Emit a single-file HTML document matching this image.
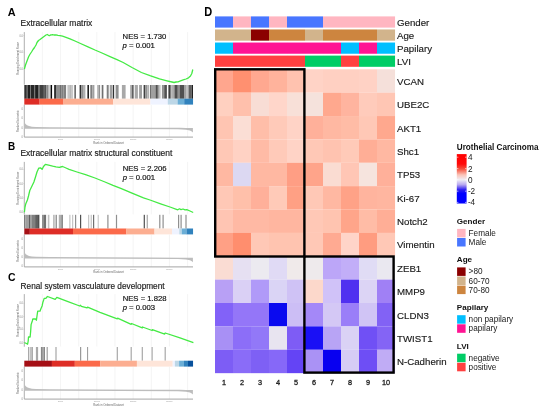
<!DOCTYPE html>
<html><head><meta charset="utf-8"><title>Figure</title>
<style>
html,body{margin:0;padding:0;background:#fff;}
body{width:550px;height:410px;overflow:hidden;}
svg{display:block;filter:blur(0.4px);font-family:"Liberation Sans", sans-serif;}
</style></head>
<body>
<svg width="550" height="410" viewBox="0 0 550 410">
<rect x="0" y="0" width="550" height="410" fill="#fff"/>
<text transform="translate(7.8,15.7) scale(0.94,1)" font-size="11.6" font-weight="bold" fill="#000">A</text>
<text x="20.6" y="25.8" font-size="8.45" fill="#1a1a1a" font-weight="normal" text-anchor="start" stroke="#1a1a1a" stroke-width="0.16">Extracellular matrix</text>
<line x1="42.4" y1="32.1" x2="42.4" y2="84.5" stroke="#ececec" stroke-width="0.6"/>
<line x1="42.4" y1="104.9" x2="42.4" y2="137.1" stroke="#ececec" stroke-width="0.6"/>
<line x1="60.55" y1="32.1" x2="60.55" y2="84.5" stroke="#ececec" stroke-width="0.6"/>
<line x1="60.55" y1="104.9" x2="60.55" y2="137.1" stroke="#ececec" stroke-width="0.6"/>
<line x1="78.7" y1="32.1" x2="78.7" y2="84.5" stroke="#ececec" stroke-width="0.6"/>
<line x1="78.7" y1="104.9" x2="78.7" y2="137.1" stroke="#ececec" stroke-width="0.6"/>
<line x1="96.85" y1="32.1" x2="96.85" y2="84.5" stroke="#ececec" stroke-width="0.6"/>
<line x1="96.85" y1="104.9" x2="96.85" y2="137.1" stroke="#ececec" stroke-width="0.6"/>
<line x1="115" y1="32.1" x2="115" y2="84.5" stroke="#ececec" stroke-width="0.6"/>
<line x1="115" y1="104.9" x2="115" y2="137.1" stroke="#ececec" stroke-width="0.6"/>
<line x1="133.15" y1="32.1" x2="133.15" y2="84.5" stroke="#ececec" stroke-width="0.6"/>
<line x1="133.15" y1="104.9" x2="133.15" y2="137.1" stroke="#ececec" stroke-width="0.6"/>
<line x1="151.3" y1="32.1" x2="151.3" y2="84.5" stroke="#ececec" stroke-width="0.6"/>
<line x1="151.3" y1="104.9" x2="151.3" y2="137.1" stroke="#ececec" stroke-width="0.6"/>
<line x1="169.45" y1="32.1" x2="169.45" y2="84.5" stroke="#ececec" stroke-width="0.6"/>
<line x1="169.45" y1="104.9" x2="169.45" y2="137.1" stroke="#ececec" stroke-width="0.6"/>
<line x1="187.6" y1="32.1" x2="187.6" y2="84.5" stroke="#ececec" stroke-width="0.6"/>
<line x1="187.6" y1="104.9" x2="187.6" y2="137.1" stroke="#ececec" stroke-width="0.6"/>
<line x1="24.3" y1="32.1" x2="24.3" y2="84.7" stroke="#9a9a9a" stroke-width="0.8"/>
<line x1="24.3" y1="104.7" x2="24.3" y2="137.1" stroke="#9a9a9a" stroke-width="0.8"/>
<line x1="24.3" y1="137.1" x2="193" y2="137.1" stroke="#9a9a9a" stroke-width="0.9"/>
<text x="23" y="36.5" font-size="2.6" fill="#888" font-weight="normal" text-anchor="end">0.0</text>
<line x1="23.3" y1="35.6" x2="24.3" y2="35.6" stroke="#aaa" stroke-width="0.4"/>
<text x="23" y="53" font-size="2.6" fill="#888" font-weight="normal" text-anchor="end">0.0</text>
<line x1="23.3" y1="52.1" x2="24.3" y2="52.1" stroke="#aaa" stroke-width="0.4"/>
<text x="23" y="70.2" font-size="2.6" fill="#888" font-weight="normal" text-anchor="end">0.0</text>
<line x1="23.3" y1="69.3" x2="24.3" y2="69.3" stroke="#aaa" stroke-width="0.4"/>
<text x="23" y="110.3" font-size="2.6" fill="#888" font-weight="normal" text-anchor="end">0</text>
<text x="23" y="119.4" font-size="2.6" fill="#888" font-weight="normal" text-anchor="end">0</text>
<text x="23" y="128.5" font-size="2.6" fill="#888" font-weight="normal" text-anchor="end">0</text>
<text x="23" y="137.5" font-size="2.6" fill="#888" font-weight="normal" text-anchor="end">0</text>
<text transform="translate(18.9,58.4) rotate(-90)" font-size="2.75" fill="#666" text-anchor="middle">Running Enrichment Score</text>
<text transform="translate(18.9,121.1) rotate(-90)" font-size="2.75" fill="#666" text-anchor="middle">Ranked list metric</text>
<text x="60.55" y="140.2" font-size="2.3" fill="#999" font-weight="normal" text-anchor="middle">5000</text>
<text x="96.85" y="140.2" font-size="2.3" fill="#999" font-weight="normal" text-anchor="middle">10000</text>
<text x="133.15" y="140.2" font-size="2.3" fill="#999" font-weight="normal" text-anchor="middle">15000</text>
<text x="169.45" y="140.2" font-size="2.3" fill="#999" font-weight="normal" text-anchor="middle">20000</text>
<text x="108.5" y="143.6" font-size="2.75" fill="#666" font-weight="normal" text-anchor="middle">Rank in Ordered Dataset</text>
<rect x="24.3" y="85" width="2.5" height="13.8" fill="#303030"/>
<rect x="26.8" y="85" width="0.8" height="13.8" fill="#505050"/>
<rect x="27.6" y="85" width="2.6" height="13.8" fill="#202020"/>
<rect x="30.2" y="85" width="0.8" height="13.8" fill="#606060"/>
<rect x="31" y="85" width="3.3" height="13.8" fill="#282828"/>
<rect x="34.3" y="85" width="0.8" height="13.8" fill="#585858"/>
<rect x="35.1" y="85" width="3.3" height="13.8" fill="#202020"/>
<rect x="38.4" y="85" width="1.2" height="13.8" fill="#505050"/>
<rect x="39.6" y="85" width="3.9" height="13.8" fill="#404040"/>
<rect x="43.5" y="85" width="1.1" height="13.8" fill="#101010"/>
<rect x="44.6" y="85" width="1.9" height="13.8" fill="#505050"/>
<rect x="46.5" y="85" width="2.2" height="13.8" fill="#8a8a8a"/>
<rect x="48.7" y="85" width="1.5" height="13.8" fill="#d0d0d0"/>
<rect x="50.2" y="85" width="0.6" height="13.8" fill="#808080"/>
<rect x="50.8" y="85" width="1.3" height="13.8" fill="#080808"/>
<rect x="52.1" y="85" width="0.3" height="13.8" fill="#909090"/>
<rect x="52.4" y="85" width="1.7" height="13.8" fill="#ffffff"/>
<rect x="54.1" y="85" width="1.9" height="13.8" fill="#303030"/>
<rect x="56" y="85" width="4" height="13.8" fill="#909090"/>
<rect x="60" y="85" width="1.2" height="13.8" fill="#707070"/>
<rect x="61.2" y="85" width="2.5" height="13.8" fill="#808080"/>
<rect x="63.7" y="85" width="2.4" height="13.8" fill="#808080"/>
<rect x="67.4" y="85" width="2.2" height="13.8" fill="#c4c4c4"/>
<rect x="69.6" y="85" width="1.2" height="13.8" fill="#a0a0a0"/>
<rect x="70.8" y="85" width="2.3" height="13.8" fill="#c8c8c8"/>
<rect x="74.3" y="85" width="1.7" height="13.8" fill="#707070"/>
<rect x="79.6" y="85" width="1.8" height="13.8" fill="#303030"/>
<rect x="81.4" y="85" width="2.3" height="13.8" fill="#909090"/>
<rect x="83.7" y="85" width="1.7" height="13.8" fill="#b0b0b0"/>
<rect x="87.4" y="85" width="1.6" height="13.8" fill="#202020"/>
<rect x="90.3" y="85" width="2" height="13.8" fill="#808080"/>
<rect x="92.3" y="85" width="2.1" height="13.8" fill="#a0a0a0"/>
<rect x="97.2" y="85" width="1.3" height="13.8" fill="#b0b0b0"/>
<rect x="98.5" y="85" width="1.6" height="13.8" fill="#909090"/>
<rect x="101.7" y="85" width="1.7" height="13.8" fill="#707070"/>
<rect x="106.7" y="85" width="1.7" height="13.8" fill="#808080"/>
<rect x="108.4" y="85" width="0.8" height="13.8" fill="#909090"/>
<rect x="110" y="85" width="2.5" height="13.8" fill="#a0a0a0"/>
<rect x="112.9" y="85" width="1.2" height="13.8" fill="#303030"/>
<rect x="114.1" y="85" width="1.7" height="13.8" fill="#e0e0e0"/>
<rect x="115.8" y="85" width="2.8" height="13.8" fill="#909090"/>
<rect x="121.9" y="85" width="3.7" height="13.8" fill="#a8a8a8"/>
<rect x="130.1" y="85" width="1.6" height="13.8" fill="#b0b0b0"/>
<rect x="131.7" y="85" width="2.1" height="13.8" fill="#606060"/>
<rect x="133.8" y="85" width="1.2" height="13.8" fill="#e8e8e8"/>
<rect x="135" y="85" width="2.9" height="13.8" fill="#a8a8a8"/>
<rect x="139.1" y="85" width="2.9" height="13.8" fill="#a0a0a0"/>
<rect x="143.6" y="85" width="1.6" height="13.8" fill="#404040"/>
<rect x="145.2" y="85" width="2.1" height="13.8" fill="#909090"/>
<rect x="147.3" y="85" width="1.7" height="13.8" fill="#b0b0b0"/>
<rect x="149" y="85" width="1.1" height="13.8" fill="#f0f0f0"/>
<rect x="150.1" y="85" width="1.5" height="13.8" fill="#606060"/>
<rect x="151.6" y="85" width="2.1" height="13.8" fill="#a0a0a0"/>
<rect x="153.7" y="85" width="0.8" height="13.8" fill="#606060"/>
<rect x="154.5" y="85" width="1.6" height="13.8" fill="#909090"/>
<rect x="156.1" y="85" width="1.7" height="13.8" fill="#404040"/>
<rect x="157.8" y="85" width="1.2" height="13.8" fill="#a0a0a0"/>
<rect x="159" y="85" width="1.6" height="13.8" fill="#c0c0c0"/>
<rect x="161.9" y="85" width="2" height="13.8" fill="#909090"/>
<rect x="163.9" y="85" width="1.2" height="13.8" fill="#707070"/>
<rect x="165.1" y="85" width="1.7" height="13.8" fill="#404040"/>
<rect x="168.4" y="85" width="1.6" height="13.8" fill="#404040"/>
<rect x="170" y="85" width="1.3" height="13.8" fill="#808080"/>
<rect x="171.3" y="85" width="2" height="13.8" fill="#b0b0b0"/>
<rect x="173.3" y="85" width="1.2" height="13.8" fill="#909090"/>
<rect x="174.5" y="85" width="3.3" height="13.8" fill="#505050"/>
<rect x="177.8" y="85" width="1.7" height="13.8" fill="#909090"/>
<rect x="179.5" y="85" width="4.5" height="13.8" fill="#505050"/>
<rect x="184" y="85" width="2" height="13.8" fill="#a0a0a0"/>
<rect x="186" y="85" width="2.5" height="13.8" fill="#c0c0c0"/>
<rect x="188.5" y="85" width="3.2" height="13.8" fill="#606060"/>
<rect x="191.7" y="85" width="1.3" height="13.8" fill="#202020"/>
<rect x="24.3" y="98.7" width="15.35" height="5.9" fill="#DE2D26"/>
<rect x="39.6" y="98.7" width="23.95" height="5.9" fill="#FB6A4A"/>
<rect x="63.5" y="98.7" width="49.75" height="5.9" fill="#FCAE91"/>
<rect x="113.2" y="98.7" width="37.25" height="5.9" fill="#FEE5D9"/>
<rect x="150.4" y="98.7" width="17.45" height="5.9" fill="#EFF3FF"/>
<rect x="167.8" y="98.7" width="9.85" height="5.9" fill="#BDD7E7"/>
<rect x="177.6" y="98.7" width="6.65" height="5.9" fill="#6BAED6"/>
<rect x="184.2" y="98.7" width="8.85" height="5.9" fill="#3182BD"/>
<polygon points="24.6,122.3 25.5,124.1 27,125.3 29,126.1 32,126.7 36,127.05 50,127.3 100,127.45 150,127.65 180,127.85 186,127.95 192.9,128 192.9,132.5 191.8,131.5 190,130.5 186,129.7 178,129.3 120,128.95 60,128.75 24.6,128.75" fill="#bdbdbd"/>
<polyline points="24.4,69 25.5,65 27,61 28.5,57 29.8,54.5 31.5,52 33,49.5 34.5,47.5 36,45 37,42.5 38.5,40.5 40,39.5 42,38 44,36.5 46,35 47.3,34.5 48.5,35.3 49.5,35.6 50.5,35 51.5,34.8 52.7,34.6 54,35 56,34.9 58,35.3 60,35.6 62.5,36.2 66,37.3 70,38.8 75,41 80.5,43.5 88,46.8 95,50 102,53 110,56.6 117,59.6 123.2,62.5 132,67.5 141.4,72.5 150,75.7 159.5,78.9 167,80.8 172,82 174.1,82.5 176,82 178,81.8 180.5,80.8 183.2,79.9 186,79 188.5,77.8 190.5,76 191.8,73.5 192.8,69.5" fill="none" stroke="#44ea44" stroke-width="1.3" stroke-linejoin="round"/>
<text x="122.6" y="38.7" font-size="7.7" fill="#111" font-weight="normal" text-anchor="start" stroke="#111" stroke-width="0.18">NES = 1.730</text>
<text x="122.6" y="47.7" font-size="7.7" fill="#111" stroke="#111" stroke-width="0.18"><tspan font-style="italic">p</tspan> = 0.001</text>
<text transform="translate(8,149.7) scale(0.86,1)" font-size="11.6" font-weight="bold" fill="#000">B</text>
<text x="20.4" y="156.1" font-size="8.45" fill="#1a1a1a" font-weight="normal" text-anchor="start" stroke="#1a1a1a" stroke-width="0.16">Extracellular matrix structural constituent</text>
<line x1="42.4" y1="161.9" x2="42.4" y2="214.3" stroke="#ececec" stroke-width="0.6"/>
<line x1="42.4" y1="234.7" x2="42.4" y2="266.9" stroke="#ececec" stroke-width="0.6"/>
<line x1="60.55" y1="161.9" x2="60.55" y2="214.3" stroke="#ececec" stroke-width="0.6"/>
<line x1="60.55" y1="234.7" x2="60.55" y2="266.9" stroke="#ececec" stroke-width="0.6"/>
<line x1="78.7" y1="161.9" x2="78.7" y2="214.3" stroke="#ececec" stroke-width="0.6"/>
<line x1="78.7" y1="234.7" x2="78.7" y2="266.9" stroke="#ececec" stroke-width="0.6"/>
<line x1="96.85" y1="161.9" x2="96.85" y2="214.3" stroke="#ececec" stroke-width="0.6"/>
<line x1="96.85" y1="234.7" x2="96.85" y2="266.9" stroke="#ececec" stroke-width="0.6"/>
<line x1="115" y1="161.9" x2="115" y2="214.3" stroke="#ececec" stroke-width="0.6"/>
<line x1="115" y1="234.7" x2="115" y2="266.9" stroke="#ececec" stroke-width="0.6"/>
<line x1="133.15" y1="161.9" x2="133.15" y2="214.3" stroke="#ececec" stroke-width="0.6"/>
<line x1="133.15" y1="234.7" x2="133.15" y2="266.9" stroke="#ececec" stroke-width="0.6"/>
<line x1="151.3" y1="161.9" x2="151.3" y2="214.3" stroke="#ececec" stroke-width="0.6"/>
<line x1="151.3" y1="234.7" x2="151.3" y2="266.9" stroke="#ececec" stroke-width="0.6"/>
<line x1="169.45" y1="161.9" x2="169.45" y2="214.3" stroke="#ececec" stroke-width="0.6"/>
<line x1="169.45" y1="234.7" x2="169.45" y2="266.9" stroke="#ececec" stroke-width="0.6"/>
<line x1="187.6" y1="161.9" x2="187.6" y2="214.3" stroke="#ececec" stroke-width="0.6"/>
<line x1="187.6" y1="234.7" x2="187.6" y2="266.9" stroke="#ececec" stroke-width="0.6"/>
<line x1="24.3" y1="161.9" x2="24.3" y2="214.5" stroke="#9a9a9a" stroke-width="0.8"/>
<line x1="24.3" y1="234.5" x2="24.3" y2="266.9" stroke="#9a9a9a" stroke-width="0.8"/>
<line x1="24.3" y1="266.9" x2="193" y2="266.9" stroke="#9a9a9a" stroke-width="0.9"/>
<text x="23" y="170.3" font-size="2.6" fill="#888" font-weight="normal" text-anchor="end">0.0</text>
<line x1="23.3" y1="169.4" x2="24.3" y2="169.4" stroke="#aaa" stroke-width="0.4"/>
<text x="23" y="184.5" font-size="2.6" fill="#888" font-weight="normal" text-anchor="end">0.0</text>
<line x1="23.3" y1="183.6" x2="24.3" y2="183.6" stroke="#aaa" stroke-width="0.4"/>
<text x="23" y="198.8" font-size="2.6" fill="#888" font-weight="normal" text-anchor="end">0.0</text>
<line x1="23.3" y1="197.9" x2="24.3" y2="197.9" stroke="#aaa" stroke-width="0.4"/>
<text x="23" y="212.9" font-size="2.6" fill="#888" font-weight="normal" text-anchor="end">0.0</text>
<line x1="23.3" y1="212" x2="24.3" y2="212" stroke="#aaa" stroke-width="0.4"/>
<text x="23" y="240.1" font-size="2.6" fill="#888" font-weight="normal" text-anchor="end">0</text>
<text x="23" y="249.2" font-size="2.6" fill="#888" font-weight="normal" text-anchor="end">0</text>
<text x="23" y="258.3" font-size="2.6" fill="#888" font-weight="normal" text-anchor="end">0</text>
<text x="23" y="267.3" font-size="2.6" fill="#888" font-weight="normal" text-anchor="end">0</text>
<text transform="translate(18.9,188.2) rotate(-90)" font-size="2.75" fill="#666" text-anchor="middle">Running Enrichment Score</text>
<text transform="translate(18.9,250.9) rotate(-90)" font-size="2.75" fill="#666" text-anchor="middle">Ranked list metric</text>
<text x="60.55" y="270" font-size="2.3" fill="#999" font-weight="normal" text-anchor="middle">5000</text>
<text x="96.85" y="270" font-size="2.3" fill="#999" font-weight="normal" text-anchor="middle">10000</text>
<text x="133.15" y="270" font-size="2.3" fill="#999" font-weight="normal" text-anchor="middle">15000</text>
<text x="169.45" y="270" font-size="2.3" fill="#999" font-weight="normal" text-anchor="middle">20000</text>
<text x="108.5" y="273.4" font-size="2.75" fill="#666" font-weight="normal" text-anchor="middle">Rank in Ordered Dataset</text>
<rect x="24.1" y="214.8" width="1.2" height="13.8" fill="#707070"/>
<rect x="25.3" y="214.8" width="3.7" height="13.8" fill="#a0a0a0"/>
<rect x="29" y="214.8" width="1.2" height="13.8" fill="#606060"/>
<rect x="30.2" y="214.8" width="1.6" height="13.8" fill="#909090"/>
<rect x="31.8" y="214.8" width="3.3" height="13.8" fill="#808080"/>
<rect x="35.1" y="214.8" width="2" height="13.8" fill="#606060"/>
<rect x="37.1" y="214.8" width="2.1" height="13.8" fill="#505050"/>
<rect x="39.2" y="214.8" width="0.4" height="13.8" fill="#909090"/>
<rect x="42" y="214.8" width="2" height="13.8" fill="#909090"/>
<rect x="44" y="214.8" width="2.1" height="13.8" fill="#707070"/>
<rect x="47.8" y="214.8" width="1.6" height="13.8" fill="#c0c0c0"/>
<rect x="53.1" y="214.8" width="1.6" height="13.8" fill="#b8b8b8"/>
<rect x="55.6" y="214.8" width="1.2" height="13.8" fill="#808080"/>
<rect x="58.8" y="214.8" width="2.5" height="13.8" fill="#b0b0b0"/>
<rect x="61.3" y="214.8" width="1.6" height="13.8" fill="#808080"/>
<rect x="69.4" y="214.8" width="1" height="13.8" fill="#b8b8b8"/>
<rect x="72.2" y="214.8" width="1" height="13.8" fill="#b8b8b8"/>
<rect x="75" y="214.8" width="1.2" height="13.8" fill="#909090"/>
<rect x="80" y="214.8" width="1.2" height="13.8" fill="#505050"/>
<rect x="88.2" y="214.8" width="1" height="13.8" fill="#b8b8b8"/>
<rect x="90.7" y="214.8" width="1" height="13.8" fill="#b8b8b8"/>
<rect x="93" y="214.8" width="1.2" height="13.8" fill="#707070"/>
<rect x="97.7" y="214.8" width="1" height="13.8" fill="#c0c0c0"/>
<rect x="107.3" y="214.8" width="1.2" height="13.8" fill="#909090"/>
<rect x="115.9" y="214.8" width="1.2" height="13.8" fill="#909090"/>
<rect x="143.7" y="214.8" width="1.2" height="13.8" fill="#505050"/>
<rect x="146.7" y="214.8" width="1.1" height="13.8" fill="#a0a0a0"/>
<rect x="159.2" y="214.8" width="1.2" height="13.8" fill="#909090"/>
<rect x="162.5" y="214.8" width="1.2" height="13.8" fill="#909090"/>
<rect x="178" y="214.8" width="1.2" height="13.8" fill="#909090"/>
<rect x="180.5" y="214.8" width="1.2" height="13.8" fill="#909090"/>
<rect x="185.4" y="214.8" width="1.2" height="13.8" fill="#909090"/>
<rect x="24.3" y="228.5" width="5.55" height="5.9" fill="#A50F15"/>
<rect x="29.8" y="228.5" width="43.25" height="5.9" fill="#DE2D26"/>
<rect x="73" y="228.5" width="53.45" height="5.9" fill="#FB6A4A"/>
<rect x="126.4" y="228.5" width="28.15" height="5.9" fill="#FCAE91"/>
<rect x="154.5" y="228.5" width="17.55" height="5.9" fill="#FEE5D9"/>
<rect x="172" y="228.5" width="7.35" height="5.9" fill="#EFF3FF"/>
<rect x="179.3" y="228.5" width="2.55" height="5.9" fill="#BDD7E7"/>
<rect x="181.8" y="228.5" width="4.75" height="5.9" fill="#6BAED6"/>
<rect x="186.5" y="228.5" width="6.55" height="5.9" fill="#3182BD"/>
<polygon points="24.6,252.1 25.5,253.9 27,255.1 29,255.9 32,256.5 36,256.85 50,257.1 100,257.25 150,257.45 180,257.65 186,257.75 192.9,257.8 192.9,262.3 191.8,261.3 190,260.3 186,259.5 178,259.1 120,258.75 60,258.55 24.6,258.55" fill="#bdbdbd"/>
<polyline points="24.4,212.3 25,207 25.7,204.1 27.4,200 28.5,196 29.8,190.5 31.5,187 33.9,182 35.5,177 37,172 38.8,168.1 40.5,167.8 42.1,169.4 43.5,166.5 45.4,164.3 48.6,165.1 52.7,166.1 56,166.8 59.3,167.3 62.6,166.5 66,168 69.1,169.4 77,172 85.5,174.6 95,178 105,182 113,185.4 121.4,188.6 132,193.2 143.5,197.9 150,200 160.6,203.8 170,207 177.8,209.8 179.5,208.8 181,209.6 183,209 185,209.9 186.8,209.6 190,211 193.2,212.5" fill="none" stroke="#44ea44" stroke-width="1.3" stroke-linejoin="round"/>
<text x="122.7" y="170.5" font-size="7.7" fill="#111" font-weight="normal" text-anchor="start" stroke="#111" stroke-width="0.18">NES = 2.206</text>
<text x="122.7" y="179.5" font-size="7.7" fill="#111" stroke="#111" stroke-width="0.18"><tspan font-style="italic">p</tspan> = 0.001</text>
<text transform="translate(7.9,280.6) scale(0.9,1)" font-size="11.6" font-weight="bold" fill="#000">C</text>
<text x="20.6" y="288.7" font-size="8.25" fill="#1a1a1a" font-weight="normal" text-anchor="start" stroke="#1a1a1a" stroke-width="0.16">Renal system vasculature development</text>
<line x1="42.4" y1="294.1" x2="42.4" y2="346.5" stroke="#ececec" stroke-width="0.6"/>
<line x1="42.4" y1="366.9" x2="42.4" y2="399.1" stroke="#ececec" stroke-width="0.6"/>
<line x1="60.55" y1="294.1" x2="60.55" y2="346.5" stroke="#ececec" stroke-width="0.6"/>
<line x1="60.55" y1="366.9" x2="60.55" y2="399.1" stroke="#ececec" stroke-width="0.6"/>
<line x1="78.7" y1="294.1" x2="78.7" y2="346.5" stroke="#ececec" stroke-width="0.6"/>
<line x1="78.7" y1="366.9" x2="78.7" y2="399.1" stroke="#ececec" stroke-width="0.6"/>
<line x1="96.85" y1="294.1" x2="96.85" y2="346.5" stroke="#ececec" stroke-width="0.6"/>
<line x1="96.85" y1="366.9" x2="96.85" y2="399.1" stroke="#ececec" stroke-width="0.6"/>
<line x1="115" y1="294.1" x2="115" y2="346.5" stroke="#ececec" stroke-width="0.6"/>
<line x1="115" y1="366.9" x2="115" y2="399.1" stroke="#ececec" stroke-width="0.6"/>
<line x1="133.15" y1="294.1" x2="133.15" y2="346.5" stroke="#ececec" stroke-width="0.6"/>
<line x1="133.15" y1="366.9" x2="133.15" y2="399.1" stroke="#ececec" stroke-width="0.6"/>
<line x1="151.3" y1="294.1" x2="151.3" y2="346.5" stroke="#ececec" stroke-width="0.6"/>
<line x1="151.3" y1="366.9" x2="151.3" y2="399.1" stroke="#ececec" stroke-width="0.6"/>
<line x1="169.45" y1="294.1" x2="169.45" y2="346.5" stroke="#ececec" stroke-width="0.6"/>
<line x1="169.45" y1="366.9" x2="169.45" y2="399.1" stroke="#ececec" stroke-width="0.6"/>
<line x1="187.6" y1="294.1" x2="187.6" y2="346.5" stroke="#ececec" stroke-width="0.6"/>
<line x1="187.6" y1="366.9" x2="187.6" y2="399.1" stroke="#ececec" stroke-width="0.6"/>
<line x1="24.3" y1="294.1" x2="24.3" y2="346.7" stroke="#9a9a9a" stroke-width="0.8"/>
<line x1="24.3" y1="366.7" x2="24.3" y2="399.1" stroke="#9a9a9a" stroke-width="0.8"/>
<line x1="24.3" y1="399.1" x2="193" y2="399.1" stroke="#9a9a9a" stroke-width="0.9"/>
<text x="23" y="304.2" font-size="2.6" fill="#888" font-weight="normal" text-anchor="end">0.0</text>
<line x1="23.3" y1="303.3" x2="24.3" y2="303.3" stroke="#aaa" stroke-width="0.4"/>
<text x="23" y="317.5" font-size="2.6" fill="#888" font-weight="normal" text-anchor="end">0.0</text>
<line x1="23.3" y1="316.6" x2="24.3" y2="316.6" stroke="#aaa" stroke-width="0.4"/>
<text x="23" y="330.1" font-size="2.6" fill="#888" font-weight="normal" text-anchor="end">0.0</text>
<line x1="23.3" y1="329.2" x2="24.3" y2="329.2" stroke="#aaa" stroke-width="0.4"/>
<text x="23" y="343.5" font-size="2.6" fill="#888" font-weight="normal" text-anchor="end">0.0</text>
<line x1="23.3" y1="342.6" x2="24.3" y2="342.6" stroke="#aaa" stroke-width="0.4"/>
<text x="23" y="372.3" font-size="2.6" fill="#888" font-weight="normal" text-anchor="end">0</text>
<text x="23" y="381.4" font-size="2.6" fill="#888" font-weight="normal" text-anchor="end">0</text>
<text x="23" y="390.5" font-size="2.6" fill="#888" font-weight="normal" text-anchor="end">0</text>
<text x="23" y="399.5" font-size="2.6" fill="#888" font-weight="normal" text-anchor="end">0</text>
<text transform="translate(18.9,320.4) rotate(-90)" font-size="2.75" fill="#666" text-anchor="middle">Running Enrichment Score</text>
<text transform="translate(18.9,383.1) rotate(-90)" font-size="2.75" fill="#666" text-anchor="middle">Ranked list metric</text>
<text x="60.55" y="402.2" font-size="2.3" fill="#999" font-weight="normal" text-anchor="middle">5000</text>
<text x="96.85" y="402.2" font-size="2.3" fill="#999" font-weight="normal" text-anchor="middle">10000</text>
<text x="133.15" y="402.2" font-size="2.3" fill="#999" font-weight="normal" text-anchor="middle">15000</text>
<text x="169.45" y="402.2" font-size="2.3" fill="#999" font-weight="normal" text-anchor="middle">20000</text>
<text x="108.5" y="405.6" font-size="2.75" fill="#666" font-weight="normal" text-anchor="middle">Rank in Ordered Dataset</text>
<rect x="28.1" y="347" width="1" height="13.8" fill="#a0a0a0"/>
<rect x="29.8" y="347" width="0.8" height="13.8" fill="#989898"/>
<rect x="30.6" y="347" width="1.5" height="13.8" fill="#c0c0c0"/>
<rect x="32.1" y="347" width="0.8" height="13.8" fill="#989898"/>
<rect x="35.9" y="347" width="2.2" height="13.8" fill="#a8a8a8"/>
<rect x="40.9" y="347" width="1.1" height="13.8" fill="#888888"/>
<rect x="42" y="347" width="1.8" height="13.8" fill="#a0a0a0"/>
<rect x="43.8" y="347" width="1.2" height="13.8" fill="#888888"/>
<rect x="46.6" y="347" width="1.2" height="13.8" fill="#a0a0a0"/>
<rect x="55.4" y="347" width="1.2" height="13.8" fill="#a8a8a8"/>
<rect x="80.1" y="347" width="1.1" height="13.8" fill="#909090"/>
<rect x="87" y="347" width="1.1" height="13.8" fill="#a0a0a0"/>
<rect x="116.7" y="347" width="1.2" height="13.8" fill="#a8a8a8"/>
<rect x="130.6" y="347" width="1.2" height="13.8" fill="#a8a8a8"/>
<rect x="141.7" y="347" width="1.2" height="13.8" fill="#a8a8a8"/>
<rect x="151.5" y="347" width="1.2" height="13.8" fill="#a8a8a8"/>
<rect x="164.6" y="347" width="1.2" height="13.8" fill="#a8a8a8"/>
<rect x="24.3" y="360.7" width="27.65" height="5.9" fill="#A50F15"/>
<rect x="51.9" y="360.7" width="22.95" height="5.9" fill="#DE2D26"/>
<rect x="74.8" y="360.7" width="25.45" height="5.9" fill="#FB6A4A"/>
<rect x="100.2" y="360.7" width="36.75" height="5.9" fill="#FCAE91"/>
<rect x="136.9" y="360.7" width="35.85" height="5.9" fill="#FEE5D9"/>
<rect x="172.7" y="360.7" width="2.25" height="5.9" fill="#EFF3FF"/>
<rect x="174.9" y="360.7" width="4.25" height="5.9" fill="#BDD7E7"/>
<rect x="179.1" y="360.7" width="4.95" height="5.9" fill="#6BAED6"/>
<rect x="184" y="360.7" width="4.05" height="5.9" fill="#3182BD"/>
<rect x="188" y="360.7" width="5.05" height="5.9" fill="#08519C"/>
<polygon points="24.6,384.3 25.5,386.1 27,387.3 29,388.1 32,388.7 36,389.05 50,389.3 100,389.45 150,389.65 180,389.85 186,389.95 192.9,390 192.9,394.5 191.8,393.5 190,392.5 186,391.7 178,391.3 120,390.95 60,390.75 24.6,390.75" fill="#bdbdbd"/>
<polyline points="24.4,342.6 26.5,343.5 27.6,344.2 28.2,341 28.5,337 30.1,337 30.6,332 31.1,324.6 32.3,321 32.8,319 35.5,319 36.4,320.2 37,316 37.7,311.2 40,311.2 40.8,309 42.1,306 42.9,302.2 44.2,298.4 45.9,298.4 46.5,297.5 47.5,296.5 55.2,299.4 56.2,298.2 56.8,297.3 68,301.6 79.7,306 80.6,305.3 81.4,306.3 87.1,307.9 87.6,307.2 100,312.3 110,316.1 117.3,318.8 117.6,318.2 131.2,324.3 131.5,323.5 142.3,327.9 142.5,327 152.1,330.5 152.3,329.6 164.7,334.1 165.2,333 180,337.8 193.4,342.6" fill="none" stroke="#44ea44" stroke-width="1.3" stroke-linejoin="round"/>
<text x="122.7" y="301.4" font-size="7.7" fill="#111" font-weight="normal" text-anchor="start" stroke="#111" stroke-width="0.18">NES = 1.828</text>
<text x="122.7" y="310.4" font-size="7.7" fill="#111" stroke="#111" stroke-width="0.18"><tspan font-style="italic">p</tspan> = 0.003</text>
<text transform="translate(204.2,15.7) scale(0.92,1)" font-size="12" font-weight="bold" fill="#000">D</text>
<rect x="215" y="16.4" width="18.05" height="11.2" fill="#4876FF"/>
<rect x="233" y="16.4" width="18.05" height="11.2" fill="#FFB6C1"/>
<rect x="251" y="16.4" width="18.05" height="11.2" fill="#4876FF"/>
<rect x="269" y="16.4" width="18.05" height="11.2" fill="#FFB6C1"/>
<rect x="287" y="16.4" width="18.05" height="11.2" fill="#4876FF"/>
<rect x="305" y="16.4" width="18.05" height="11.2" fill="#4876FF"/>
<rect x="323" y="16.4" width="18.05" height="11.2" fill="#FFB6C1"/>
<rect x="341" y="16.4" width="18.05" height="11.2" fill="#FFB6C1"/>
<rect x="359" y="16.4" width="18.05" height="11.2" fill="#FFB6C1"/>
<rect x="377" y="16.4" width="18.05" height="11.2" fill="#FFB6C1"/>
<text x="397" y="25.6" font-size="9.7" fill="#1a1a1a" font-weight="normal" text-anchor="start" stroke="#1a1a1a" stroke-width="0.15">Gender</text>
<rect x="215" y="29.47" width="18.05" height="11.2" fill="#D2B48C"/>
<rect x="233" y="29.47" width="18.05" height="11.2" fill="#D2B48C"/>
<rect x="251" y="29.47" width="18.05" height="11.2" fill="#8B0000"/>
<rect x="269" y="29.47" width="18.05" height="11.2" fill="#CD853F"/>
<rect x="287" y="29.47" width="18.05" height="11.2" fill="#CD853F"/>
<rect x="305" y="29.47" width="18.05" height="11.2" fill="#D2B48C"/>
<rect x="323" y="29.47" width="18.05" height="11.2" fill="#CD853F"/>
<rect x="341" y="29.47" width="18.05" height="11.2" fill="#CD853F"/>
<rect x="359" y="29.47" width="18.05" height="11.2" fill="#CD853F"/>
<rect x="377" y="29.47" width="18.05" height="11.2" fill="#D2B48C"/>
<text x="397" y="38.67" font-size="9.7" fill="#1a1a1a" font-weight="normal" text-anchor="start" stroke="#1a1a1a" stroke-width="0.15">Age</text>
<rect x="215" y="42.54" width="18.05" height="11.2" fill="#00BFFF"/>
<rect x="233" y="42.54" width="18.05" height="11.2" fill="#FF1493"/>
<rect x="251" y="42.54" width="18.05" height="11.2" fill="#FF1493"/>
<rect x="269" y="42.54" width="18.05" height="11.2" fill="#FF1493"/>
<rect x="287" y="42.54" width="18.05" height="11.2" fill="#FF1493"/>
<rect x="305" y="42.54" width="18.05" height="11.2" fill="#FF1493"/>
<rect x="323" y="42.54" width="18.05" height="11.2" fill="#FF1493"/>
<rect x="341" y="42.54" width="18.05" height="11.2" fill="#00BFFF"/>
<rect x="359" y="42.54" width="18.05" height="11.2" fill="#FF1493"/>
<rect x="377" y="42.54" width="18.05" height="11.2" fill="#00BFFF"/>
<text x="397" y="51.74" font-size="9.7" fill="#1a1a1a" font-weight="normal" text-anchor="start" stroke="#1a1a1a" stroke-width="0.15">Papilary</text>
<rect x="215" y="55.61" width="18.05" height="11.2" fill="#FF4040"/>
<rect x="233" y="55.61" width="18.05" height="11.2" fill="#FF4040"/>
<rect x="251" y="55.61" width="18.05" height="11.2" fill="#FF4040"/>
<rect x="269" y="55.61" width="18.05" height="11.2" fill="#FF4040"/>
<rect x="287" y="55.61" width="18.05" height="11.2" fill="#FF4040"/>
<rect x="305" y="55.61" width="18.05" height="11.2" fill="#00CD66"/>
<rect x="323" y="55.61" width="18.05" height="11.2" fill="#00CD66"/>
<rect x="341" y="55.61" width="18.05" height="11.2" fill="#FF4040"/>
<rect x="359" y="55.61" width="18.05" height="11.2" fill="#00CD66"/>
<rect x="377" y="55.61" width="18.05" height="11.2" fill="#00CD66"/>
<text x="397" y="64.81" font-size="9.7" fill="#1a1a1a" font-weight="normal" text-anchor="start" stroke="#1a1a1a" stroke-width="0.15">LVI</text>
<rect x="215" y="69.3" width="18.05" height="23.42" fill="#FFA68E"/>
<rect x="233" y="69.3" width="18.05" height="23.42" fill="#FF9070"/>
<rect x="251" y="69.3" width="18.05" height="23.42" fill="#FFA890"/>
<rect x="269" y="69.3" width="18.05" height="23.42" fill="#FFB39C"/>
<rect x="287" y="69.3" width="18.05" height="23.42" fill="#FFC2AF"/>
<rect x="305" y="69.3" width="18.05" height="23.42" fill="#FFD3C6"/>
<rect x="323" y="69.3" width="18.05" height="23.42" fill="#FFD0C2"/>
<rect x="341" y="69.3" width="18.05" height="23.42" fill="#FFD0C2"/>
<rect x="359" y="69.3" width="18.05" height="23.42" fill="#FFD2C5"/>
<rect x="377" y="69.3" width="18.05" height="23.42" fill="#F5E0DA"/>
<text x="397" y="84.89" font-size="9.7" fill="#1a1a1a" font-weight="normal" text-anchor="start" stroke="#1a1a1a" stroke-width="0.15">VCAN</text>
<rect x="215" y="92.67" width="18.05" height="23.42" fill="#FFD0C0"/>
<rect x="233" y="92.67" width="18.05" height="23.42" fill="#FFC0AC"/>
<rect x="251" y="92.67" width="18.05" height="23.42" fill="#F8DDD5"/>
<rect x="269" y="92.67" width="18.05" height="23.42" fill="#FFD6CA"/>
<rect x="287" y="92.67" width="18.05" height="23.42" fill="#F8E0D8"/>
<rect x="305" y="92.67" width="18.05" height="23.42" fill="#F5E2DC"/>
<rect x="323" y="92.67" width="18.05" height="23.42" fill="#FFA88E"/>
<rect x="341" y="92.67" width="18.05" height="23.42" fill="#FFB49F"/>
<rect x="359" y="92.67" width="18.05" height="23.42" fill="#FFCBBB"/>
<rect x="377" y="92.67" width="18.05" height="23.42" fill="#FFC6B4"/>
<text x="397" y="108.26" font-size="9.7" fill="#1a1a1a" font-weight="normal" text-anchor="start" stroke="#1a1a1a" stroke-width="0.15">UBE2C</text>
<rect x="215" y="116.04" width="18.05" height="23.42" fill="#FFC5B2"/>
<rect x="233" y="116.04" width="18.05" height="23.42" fill="#FBDED5"/>
<rect x="251" y="116.04" width="18.05" height="23.42" fill="#FFBEA9"/>
<rect x="269" y="116.04" width="18.05" height="23.42" fill="#FFCAB9"/>
<rect x="287" y="116.04" width="18.05" height="23.42" fill="#FFD3C6"/>
<rect x="305" y="116.04" width="18.05" height="23.42" fill="#FFB09A"/>
<rect x="323" y="116.04" width="18.05" height="23.42" fill="#FFB8A2"/>
<rect x="341" y="116.04" width="18.05" height="23.42" fill="#FFBCA6"/>
<rect x="359" y="116.04" width="18.05" height="23.42" fill="#FFC8B6"/>
<rect x="377" y="116.04" width="18.05" height="23.42" fill="#FFA88E"/>
<text x="397" y="131.62" font-size="9.7" fill="#1a1a1a" font-weight="normal" text-anchor="start" stroke="#1a1a1a" stroke-width="0.15">AKT1</text>
<rect x="215" y="139.41" width="18.05" height="23.42" fill="#FFC8B6"/>
<rect x="233" y="139.41" width="18.05" height="23.42" fill="#FFD2C4"/>
<rect x="251" y="139.41" width="18.05" height="23.42" fill="#FFBBA6"/>
<rect x="269" y="139.41" width="18.05" height="23.42" fill="#FFCAB9"/>
<rect x="287" y="139.41" width="18.05" height="23.42" fill="#FFD3C6"/>
<rect x="305" y="139.41" width="18.05" height="23.42" fill="#FFC8B6"/>
<rect x="323" y="139.41" width="18.05" height="23.42" fill="#FFC3B0"/>
<rect x="341" y="139.41" width="18.05" height="23.42" fill="#FFCAB8"/>
<rect x="359" y="139.41" width="18.05" height="23.42" fill="#FFAE96"/>
<rect x="377" y="139.41" width="18.05" height="23.42" fill="#FFB8A2"/>
<text x="397" y="155" font-size="9.7" fill="#1a1a1a" font-weight="normal" text-anchor="start" stroke="#1a1a1a" stroke-width="0.15">Shc1</text>
<rect x="215" y="162.78" width="18.05" height="23.42" fill="#FFB8A2"/>
<rect x="233" y="162.78" width="18.05" height="23.42" fill="#DCD8F2"/>
<rect x="251" y="162.78" width="18.05" height="23.42" fill="#FFB8A2"/>
<rect x="269" y="162.78" width="18.05" height="23.42" fill="#FFB8A2"/>
<rect x="287" y="162.78" width="18.05" height="23.42" fill="#FF9E84"/>
<rect x="305" y="162.78" width="18.05" height="23.42" fill="#FFA48A"/>
<rect x="323" y="162.78" width="18.05" height="23.42" fill="#FADCD2"/>
<rect x="341" y="162.78" width="18.05" height="23.42" fill="#FFC6B5"/>
<rect x="359" y="162.78" width="18.05" height="23.42" fill="#F6E4DE"/>
<rect x="377" y="162.78" width="18.05" height="23.42" fill="#FFB09A"/>
<text x="397" y="178.37" font-size="9.7" fill="#1a1a1a" font-weight="normal" text-anchor="start" stroke="#1a1a1a" stroke-width="0.15">TP53</text>
<rect x="215" y="186.15" width="18.05" height="23.42" fill="#FFC8B6"/>
<rect x="233" y="186.15" width="18.05" height="23.42" fill="#FFC0AA"/>
<rect x="251" y="186.15" width="18.05" height="23.42" fill="#FFB09A"/>
<rect x="269" y="186.15" width="18.05" height="23.42" fill="#FFCAB8"/>
<rect x="287" y="186.15" width="18.05" height="23.42" fill="#FFA084"/>
<rect x="305" y="186.15" width="18.05" height="23.42" fill="#FFC8B6"/>
<rect x="323" y="186.15" width="18.05" height="23.42" fill="#FFB8A2"/>
<rect x="341" y="186.15" width="18.05" height="23.42" fill="#FFA287"/>
<rect x="359" y="186.15" width="18.05" height="23.42" fill="#FFB49E"/>
<rect x="377" y="186.15" width="18.05" height="23.42" fill="#FFB6A0"/>
<text x="397" y="201.74" font-size="9.7" fill="#1a1a1a" font-weight="normal" text-anchor="start" stroke="#1a1a1a" stroke-width="0.15">Ki-67</text>
<rect x="215" y="209.52" width="18.05" height="23.42" fill="#FFC5B3"/>
<rect x="233" y="209.52" width="18.05" height="23.42" fill="#FFB9A4"/>
<rect x="251" y="209.52" width="18.05" height="23.42" fill="#FFB9A4"/>
<rect x="269" y="209.52" width="18.05" height="23.42" fill="#FFB6A0"/>
<rect x="287" y="209.52" width="18.05" height="23.42" fill="#FFB6A0"/>
<rect x="305" y="209.52" width="18.05" height="23.42" fill="#FFC8B6"/>
<rect x="323" y="209.52" width="18.05" height="23.42" fill="#FFC4B0"/>
<rect x="341" y="209.52" width="18.05" height="23.42" fill="#FFA58A"/>
<rect x="359" y="209.52" width="18.05" height="23.42" fill="#FFBCA6"/>
<rect x="377" y="209.52" width="18.05" height="23.42" fill="#FFAE96"/>
<text x="397" y="225.1" font-size="9.7" fill="#1a1a1a" font-weight="normal" text-anchor="start" stroke="#1a1a1a" stroke-width="0.15">Notch2</text>
<rect x="215" y="232.89" width="18.05" height="23.42" fill="#FFA085"/>
<rect x="233" y="232.89" width="18.05" height="23.42" fill="#FF8E6E"/>
<rect x="251" y="232.89" width="18.05" height="23.42" fill="#FFC8B6"/>
<rect x="269" y="232.89" width="18.05" height="23.42" fill="#FFC4B0"/>
<rect x="287" y="232.89" width="18.05" height="23.42" fill="#FFC4B0"/>
<rect x="305" y="232.89" width="18.05" height="23.42" fill="#FFC8B6"/>
<rect x="323" y="232.89" width="18.05" height="23.42" fill="#FFAA92"/>
<rect x="341" y="232.89" width="18.05" height="23.42" fill="#FFD4C8"/>
<rect x="359" y="232.89" width="18.05" height="23.42" fill="#FF9C80"/>
<rect x="377" y="232.89" width="18.05" height="23.42" fill="#FFC8B6"/>
<text x="397" y="248.47" font-size="9.7" fill="#1a1a1a" font-weight="normal" text-anchor="start" stroke="#1a1a1a" stroke-width="0.15">Vimentin</text>
<rect x="215" y="256.26" width="18.05" height="23.42" fill="#FADCD3"/>
<rect x="233" y="256.26" width="18.05" height="23.42" fill="#E6E0F2"/>
<rect x="251" y="256.26" width="18.05" height="23.42" fill="#ECEAF0"/>
<rect x="269" y="256.26" width="18.05" height="23.42" fill="#E0DAF5"/>
<rect x="287" y="256.26" width="18.05" height="23.42" fill="#F0EAEA"/>
<rect x="305" y="256.26" width="18.05" height="23.42" fill="#EEEAEC"/>
<rect x="323" y="256.26" width="18.05" height="23.42" fill="#BCA6F8"/>
<rect x="341" y="256.26" width="18.05" height="23.42" fill="#C2AEF8"/>
<rect x="359" y="256.26" width="18.05" height="23.42" fill="#E0DCF5"/>
<rect x="377" y="256.26" width="18.05" height="23.42" fill="#EAE8F0"/>
<text x="397" y="271.84" font-size="9.7" fill="#1a1a1a" font-weight="normal" text-anchor="start" stroke="#1a1a1a" stroke-width="0.15">ZEB1</text>
<rect x="215" y="279.63" width="18.05" height="23.42" fill="#B8A0F5"/>
<rect x="233" y="279.63" width="18.05" height="23.42" fill="#DAD0F5"/>
<rect x="251" y="279.63" width="18.05" height="23.42" fill="#B09AF8"/>
<rect x="269" y="279.63" width="18.05" height="23.42" fill="#DAD4F5"/>
<rect x="287" y="279.63" width="18.05" height="23.42" fill="#CFC2F5"/>
<rect x="305" y="279.63" width="18.05" height="23.42" fill="#FCD8CB"/>
<rect x="323" y="279.63" width="18.05" height="23.42" fill="#D0C2F8"/>
<rect x="341" y="279.63" width="18.05" height="23.42" fill="#5030F0"/>
<rect x="359" y="279.63" width="18.05" height="23.42" fill="#DCD4F5"/>
<rect x="377" y="279.63" width="18.05" height="23.42" fill="#A080F5"/>
<text x="397" y="295.21" font-size="9.7" fill="#1a1a1a" font-weight="normal" text-anchor="start" stroke="#1a1a1a" stroke-width="0.15">MMP9</text>
<rect x="215" y="303" width="18.05" height="23.42" fill="#8262F8"/>
<rect x="233" y="303" width="18.05" height="23.42" fill="#9476F8"/>
<rect x="251" y="303" width="18.05" height="23.42" fill="#9476F8"/>
<rect x="269" y="303" width="18.05" height="23.42" fill="#0A0AF0"/>
<rect x="287" y="303" width="18.05" height="23.42" fill="#CCBEF5"/>
<rect x="305" y="303" width="18.05" height="23.42" fill="#A488F8"/>
<rect x="323" y="303" width="18.05" height="23.42" fill="#D4C8F5"/>
<rect x="341" y="303" width="18.05" height="23.42" fill="#9A7EF8"/>
<rect x="359" y="303" width="18.05" height="23.42" fill="#D0C4F5"/>
<rect x="377" y="303" width="18.05" height="23.42" fill="#8262F5"/>
<text x="397" y="318.58" font-size="9.7" fill="#1a1a1a" font-weight="normal" text-anchor="start" stroke="#1a1a1a" stroke-width="0.15">CLDN3</text>
<rect x="215" y="326.37" width="18.05" height="23.42" fill="#A890F5"/>
<rect x="233" y="326.37" width="18.05" height="23.42" fill="#8C6EF8"/>
<rect x="251" y="326.37" width="18.05" height="23.42" fill="#9278F8"/>
<rect x="269" y="326.37" width="18.05" height="23.42" fill="#E8E4F0"/>
<rect x="287" y="326.37" width="18.05" height="23.42" fill="#7E5CF5"/>
<rect x="305" y="326.37" width="18.05" height="23.42" fill="#1A10F5"/>
<rect x="323" y="326.37" width="18.05" height="23.42" fill="#B8A4F5"/>
<rect x="341" y="326.37" width="18.05" height="23.42" fill="#DAD2F5"/>
<rect x="359" y="326.37" width="18.05" height="23.42" fill="#7050F5"/>
<rect x="377" y="326.37" width="18.05" height="23.42" fill="#8464F5"/>
<text x="397" y="341.95" font-size="9.7" fill="#1a1a1a" font-weight="normal" text-anchor="start" stroke="#1a1a1a" stroke-width="0.15">TWIST1</text>
<rect x="215" y="349.74" width="18.05" height="23.42" fill="#7D5DF5"/>
<rect x="233" y="349.74" width="18.05" height="23.42" fill="#8A6CF8"/>
<rect x="251" y="349.74" width="18.05" height="23.42" fill="#7E60F5"/>
<rect x="269" y="349.74" width="18.05" height="23.42" fill="#8668F8"/>
<rect x="287" y="349.74" width="18.05" height="23.42" fill="#6444F5"/>
<rect x="305" y="349.74" width="18.05" height="23.42" fill="#AA92F5"/>
<rect x="323" y="349.74" width="18.05" height="23.42" fill="#0800F0"/>
<rect x="341" y="349.74" width="18.05" height="23.42" fill="#D6CCF5"/>
<rect x="359" y="349.74" width="18.05" height="23.42" fill="#6E4EF5"/>
<rect x="377" y="349.74" width="18.05" height="23.42" fill="#C0ACF5"/>
<text x="397" y="365.32" font-size="9.7" fill="#1a1a1a" font-weight="normal" text-anchor="start" stroke="#1a1a1a" stroke-width="0.15">N-Cadherin</text>
<rect x="215.2" y="69.3" width="89.2" height="187.2" fill="none" stroke="#000" stroke-width="2.4"/>
<rect x="304.4" y="256.5" width="89.2" height="116.1" fill="none" stroke="#000" stroke-width="2.4"/>
<text x="224" y="385.3" font-size="7.3" fill="#222" font-weight="normal" text-anchor="middle" stroke="#222" stroke-width="0.3">1</text>
<text x="242" y="385.3" font-size="7.3" fill="#222" font-weight="normal" text-anchor="middle" stroke="#222" stroke-width="0.3">2</text>
<text x="260" y="385.3" font-size="7.3" fill="#222" font-weight="normal" text-anchor="middle" stroke="#222" stroke-width="0.3">3</text>
<text x="278" y="385.3" font-size="7.3" fill="#222" font-weight="normal" text-anchor="middle" stroke="#222" stroke-width="0.3">4</text>
<text x="296" y="385.3" font-size="7.3" fill="#222" font-weight="normal" text-anchor="middle" stroke="#222" stroke-width="0.3">5</text>
<text x="314" y="385.3" font-size="7.3" fill="#222" font-weight="normal" text-anchor="middle" stroke="#222" stroke-width="0.3">6</text>
<text x="332" y="385.3" font-size="7.3" fill="#222" font-weight="normal" text-anchor="middle" stroke="#222" stroke-width="0.3">7</text>
<text x="350" y="385.3" font-size="7.3" fill="#222" font-weight="normal" text-anchor="middle" stroke="#222" stroke-width="0.3">8</text>
<text x="368" y="385.3" font-size="7.3" fill="#222" font-weight="normal" text-anchor="middle" stroke="#222" stroke-width="0.3">9</text>
<text x="386" y="385.3" font-size="7.3" fill="#222" font-weight="normal" text-anchor="middle" stroke="#222" stroke-width="0.3">10</text>
<text x="456.8" y="149.9" font-size="8.15" fill="#111" font-weight="bold" text-anchor="start">Urothelial Carcinoma</text>
<defs><linearGradient id="lg" x1="0" y1="0" x2="0" y2="1"><stop offset="0" stop-color="#ff0000"/><stop offset="0.2" stop-color="#ff0a0a"/><stop offset="0.3" stop-color="#f5503c"/><stop offset="0.42" stop-color="#fbc4b8"/><stop offset="0.52" stop-color="#f0eef5"/><stop offset="0.62" stop-color="#b8a8f0"/><stop offset="0.72" stop-color="#3020f0"/><stop offset="0.8" stop-color="#0000ff"/><stop offset="1" stop-color="#0000ff"/></linearGradient></defs>
<rect x="456.8" y="154.1" width="9.8" height="49.4" fill="url(#lg)"/>
<text x="467.9" y="160.2" font-size="8.2" fill="#1a1a1a" font-weight="normal" text-anchor="start">4</text>
<line x1="456.8" y1="157.2" x2="458.4" y2="157.2" stroke="#ffffff" stroke-width="0.6"/>
<line x1="465" y1="157.2" x2="466.6" y2="157.2" stroke="#ffffff" stroke-width="0.6"/>
<text x="467.9" y="171.6" font-size="8.2" fill="#1a1a1a" font-weight="normal" text-anchor="start">2</text>
<line x1="456.8" y1="168.6" x2="458.4" y2="168.6" stroke="#ffffff" stroke-width="0.6"/>
<line x1="465" y1="168.6" x2="466.6" y2="168.6" stroke="#ffffff" stroke-width="0.6"/>
<text x="467.9" y="182.8" font-size="8.2" fill="#1a1a1a" font-weight="normal" text-anchor="start">0</text>
<line x1="456.8" y1="179.8" x2="458.4" y2="179.8" stroke="#ffffff" stroke-width="0.6"/>
<line x1="465" y1="179.8" x2="466.6" y2="179.8" stroke="#ffffff" stroke-width="0.6"/>
<text x="467.9" y="194.2" font-size="8.2" fill="#1a1a1a" font-weight="normal" text-anchor="start">-2</text>
<line x1="456.8" y1="191.2" x2="458.4" y2="191.2" stroke="#ffffff" stroke-width="0.6"/>
<line x1="465" y1="191.2" x2="466.6" y2="191.2" stroke="#ffffff" stroke-width="0.6"/>
<text x="467.9" y="205.4" font-size="8.2" fill="#1a1a1a" font-weight="normal" text-anchor="start">-4</text>
<line x1="456.8" y1="202.4" x2="458.4" y2="202.4" stroke="#ffffff" stroke-width="0.6"/>
<line x1="465" y1="202.4" x2="466.6" y2="202.4" stroke="#ffffff" stroke-width="0.6"/>
<text x="456.8" y="223.9" font-size="8.1" fill="#111" font-weight="bold" text-anchor="start">Gender</text>
<rect x="457.1" y="228.9" width="8.5" height="8.5" fill="#FFB6C1"/>
<text x="468.6" y="235.9" font-size="8.2" fill="#1a1a1a" font-weight="normal" text-anchor="start">Female</text>
<rect x="457.1" y="238" width="8.5" height="8.5" fill="#4876FF"/>
<text x="468.6" y="245" font-size="8.2" fill="#1a1a1a" font-weight="normal" text-anchor="start">Male</text>
<text x="456.8" y="262.1" font-size="8.1" fill="#111" font-weight="bold" text-anchor="start">Age</text>
<rect x="457.1" y="267.4" width="8.5" height="8.5" fill="#8B0000"/>
<text x="468.6" y="274.4" font-size="8.2" fill="#1a1a1a" font-weight="normal" text-anchor="start">&gt;80</text>
<rect x="457.1" y="276.5" width="8.5" height="8.5" fill="#D2B48C"/>
<text x="468.6" y="283.5" font-size="8.2" fill="#1a1a1a" font-weight="normal" text-anchor="start">60-70</text>
<rect x="457.1" y="285.6" width="8.5" height="8.5" fill="#CD853F"/>
<text x="468.6" y="292.6" font-size="8.2" fill="#1a1a1a" font-weight="normal" text-anchor="start">70-80</text>
<text x="456.8" y="310.3" font-size="8.1" fill="#111" font-weight="bold" text-anchor="start">Papilary</text>
<rect x="457.1" y="315.2" width="8.5" height="8.5" fill="#00BFFF"/>
<text x="468.6" y="322.2" font-size="8.2" fill="#1a1a1a" font-weight="normal" text-anchor="start">non papilary</text>
<rect x="457.1" y="324.3" width="8.5" height="8.5" fill="#FF1493"/>
<text x="468.6" y="331.3" font-size="8.2" fill="#1a1a1a" font-weight="normal" text-anchor="start">papilary</text>
<text x="456.8" y="348.6" font-size="8.1" fill="#111" font-weight="bold" text-anchor="start">LVI</text>
<rect x="457.1" y="353.7" width="8.5" height="8.5" fill="#00CD66"/>
<text x="468.6" y="360.7" font-size="8.2" fill="#1a1a1a" font-weight="normal" text-anchor="start">negative</text>
<rect x="457.1" y="362.8" width="8.5" height="8.5" fill="#FF4040"/>
<text x="468.6" y="369.8" font-size="8.2" fill="#1a1a1a" font-weight="normal" text-anchor="start">positive</text>
</svg>
</body></html>
